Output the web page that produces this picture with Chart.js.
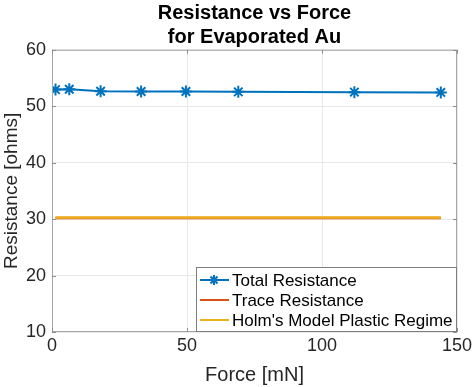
<!DOCTYPE html>
<html>
<head>
<meta charset="utf-8">
<script src="https://cdn.jsdelivr.net/npm/chart.js@4/dist/chart.umd.min.js"></script>
<style>
  html, body { margin: 0; padding: 0; background: #fff; }
  #wrap { width: 474px; height: 387px; }
</style>
</head>
<body>
<div id="wrap"><canvas id="resChart" width="474" height="387"></canvas></div>
<script>
// values
const forceValues = [1.3, 6.4, 18, 33, 49.6, 69, 112, 144];
const totalResistance = [52.95, 53.0, 52.65, 52.6, 52.6, 52.55, 52.5, 52.45];
const traceResistance = [30.2, 30.2, 30.2, 30.2, 30.2, 30.2, 30.2, 30.2];
const holmResistance = [30.27, 30.27, 30.27, 30.27, 30.27, 30.27, 30.27, 30.27];
const seriesLabels = ['Total Resistance', 'Trace Resistance', "Holm's Model Plastic Regime"];
const xTicks = [0, 50, 100, 150];
const yTicks = [10, 20, 30, 40, 50, 60];

const FONT = '"Liberation Sans", Arial, Helvetica, sans-serif';
const colors = ['#0072BD', '#D95319', '#EDB120'];

function toPoints(values) {
  return forceValues.map((f, i) => ({ x: f, y: values[i] }));
}

// MATLAB style box with inside ticks
const boxPlugin = {
  id: 'boxPlugin',
  afterDatasetsDraw(chart) {
    const { ctx, chartArea: a, scales } = chart;
    ctx.save();
    ctx.strokeStyle = '#a6a6a6';
    ctx.lineWidth = 1;
    ctx.strokeRect(a.left + 0.5, a.top + 0.5, a.right - a.left - 1, a.bottom - a.top - 1);
    ctx.strokeStyle = '#8c8c8c';
    ctx.beginPath();
    xTicks.forEach((v) => {
      const px = Math.round(scales.x.getPixelForValue(v)) + 0.5;
      ctx.moveTo(px, a.bottom); ctx.lineTo(px, a.bottom - 4);
      ctx.moveTo(px, a.top); ctx.lineTo(px, a.top + 4);
    });
    yTicks.forEach((v) => {
      const py = Math.round(scales.y.getPixelForValue(v)) + 0.5;
      ctx.moveTo(a.left, py); ctx.lineTo(a.left + 4, py);
      ctx.moveTo(a.right, py); ctx.lineTo(a.right - 4, py);
    });
    ctx.stroke();
    ctx.restore();
  },
  afterDraw(chart) {
    // legend in the lower right corner of the axes
    const { ctx, chartArea: a } = chart;
    const w = 261, h = 65;
    const left = a.right - w, top = a.bottom - h;
    ctx.save();
    ctx.fillStyle = '#fff';
    ctx.fillRect(left, top, w, h);
    ctx.strokeStyle = '#7f7f7f';
    ctx.lineWidth = 1;
    ctx.strokeRect(left + 0.5, top + 0.5, w - 1, h - 1);
    ctx.font = '17px ' + FONT;
    ctx.textBaseline = 'middle';
    ctx.fillStyle = '#000';
    seriesLabels.forEach((label, i) => {
      const y = top + 13 + i * 20;
      ctx.strokeStyle = colors[i];
      ctx.lineWidth = 2;
      ctx.beginPath();
      ctx.moveTo(left + 4, y);
      ctx.lineTo(left + 33, y);
      ctx.stroke();
      if (i === 0) {
        const cx = left + 18;
        ctx.beginPath();
        for (let k = 0; k < 4; k++) {
          const ang = k * Math.PI / 4;
          ctx.moveTo(cx - 5 * Math.cos(ang), y - 5 * Math.sin(ang));
          ctx.lineTo(cx + 5 * Math.cos(ang), y + 5 * Math.sin(ang));
        }
        ctx.stroke();
      }
      ctx.fillText(label, left + 36, y + 1);
    });
    ctx.restore();
  },
};

const ctx = document.getElementById('resChart');
const resChart = new Chart(ctx, {
  type: 'line',
  plugins: [boxPlugin],
  data: {
    datasets: [
      {
        label: seriesLabels[0],
        data: toPoints(totalResistance),
        borderColor: colors[0],
        backgroundColor: colors[0],
        borderWidth: 2,
        pointStyle: 'star',
        pointRadius: 6,
        pointBorderWidth: 2,
        pointBorderColor: colors[0],
        order: 1,
      },
      {
        label: seriesLabels[1],
        data: toPoints(traceResistance),
        borderColor: colors[1],
        borderWidth: 2.5,
        pointRadius: 0,
        order: 3,
      },
      {
        label: seriesLabels[2],
        data: toPoints(holmResistance),
        borderColor: colors[2],
        borderWidth: 2.5,
        pointRadius: 0,
        order: 2,
      },
    ],
  },
  options: {
    responsive: false,
    animation: false,
    layout: { padding: { left: 0, right: 17, top: 1, bottom: 0 } },
    plugins: {
      legend: { display: false },
      tooltip: { enabled: false },
      title: {
        display: true,
        fullSize: false,
        text: ['Resistance vs Force', 'for Evaporated Au'],
        color: '#000',
        font: { family: FONT, size: 20, weight: 'bold', lineHeight: 1.22 },
        padding: { top: 0, bottom: 0 },
      },
    },
    scales: {
      x: {
        type: 'linear',
        min: 0,
        max: 150,
        afterBuildTicks: (scale) => { scale.ticks = xTicks.map(v => ({ value: v })); },
        afterFit: (scale) => { scale.paddingLeft = 0; scale.paddingRight = 0; scale.height = 55; },
        ticks: { color: '#262626', font: { family: FONT, size: 18 }, padding: 3, maxRotation: 0 },
        grid: { color: '#e8e8e8', drawTicks: false },
        border: { display: false },
        title: {
          display: true,
          text: 'Force [mN]',
          color: '#262626',
          font: { family: FONT, size: 20 },
          padding: { top: 1, bottom: 0 },
        },
      },
      y: {
        type: 'linear',
        min: 10,
        max: 60,
        afterBuildTicks: (scale) => { scale.ticks = yTicks.map(v => ({ value: v })); },
        afterFit: (scale) => { scale.width = 52; },
        ticks: { color: '#262626', font: { family: FONT, size: 18 }, padding: 6 },
        grid: { color: '#e8e8e8', drawTicks: false },
        border: { display: false },
        title: {
          display: true,
          text: 'Resistance [ohms]',
          color: '#262626',
          font: { family: FONT, size: 19 },
          padding: { top: 0, bottom: 1 },
        },
      },
    },
  },
});
</script>
</body>
</html>
